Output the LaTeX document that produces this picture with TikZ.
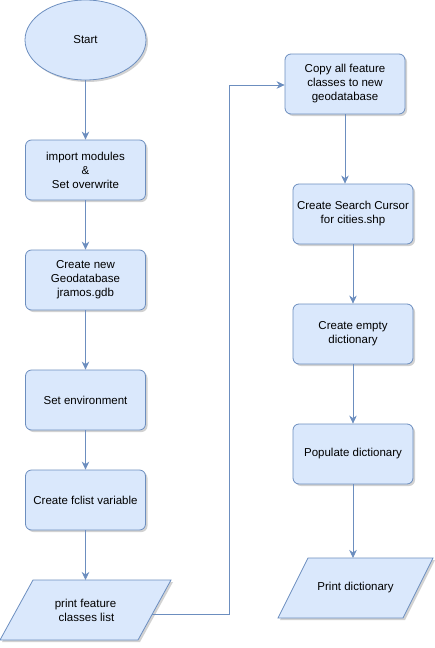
\documentclass[tikz,border=0pt]{standalone}
\usepackage{fontspec}
\setmainfont{Liberation Sans}
\usetikzlibrary{shapes.geometric,arrows.meta,shadows}
\definecolor{boxfill}{HTML}{DAE8FC}
\definecolor{boxline}{HTML}{6C8EBF}
\begin{document}
\begin{tikzpicture}[x=1pt,y=-1pt,
  shade/.style={drop shadow={shadow xshift=2pt,shadow yshift=-2pt,fill=black!35,opacity=0.5}},
  outline/.style={draw=boxline,fill=boxfill,line width=0.8pt,shade},
  txt/.style={align=center,font=\fontsize{11.5}{14}\selectfont,inner sep=1pt},
  base/.style={outline,txt},
  procbox/.style={base,rectangle,rounded corners=6pt,minimum width=120pt,minimum height=60pt},
  startnode/.style={base,ellipse,minimum width=121pt,minimum height=80pt},
  flow/.style={draw=boxline,line width=0.8pt,-{Stealth[length=8pt,width=7.5pt,inset=2.5pt]}}
]
\useasboundingbox (0,0) rectangle (435,648);
\node[startnode] (start) at (85.5,40) {Start};
\node[procbox] (imp) at (85.5,170) {import modules\\\&\\Set overwrite};
\node[procbox] (gdb) at (85.5,280) {Create new\\Geodatabase\\jramos.gdb};
\node[procbox] (env) at (85.5,400) {Set environment};
\node[procbox] (fcl) at (85.5,500) {Create fclist variable};
% parallelogram: print feature classes list
\draw[outline] (0,640) -- (33,580) -- (171,580) -- (138,640) -- cycle;
\node[txt] (pfc) at (85.5,610) {print feature\\\,classes list};
\coordinate (pfctop) at (85.5,580);
\coordinate (pfcexit) at (152.3,614);
\node[procbox] (copy) at (345,84) {Copy all feature\\classes to new\\geodatabase};
\node[procbox] (cur) at (353,214) {Create Search Cursor\\for cities.shp};
\node[procbox] (emp) at (353,334) {Create empty\\dictionary};
\node[procbox] (pop) at (353,454) {Populate dictionary};
% parallelogram: print dictionary
\draw[outline] (278,618) -- (308,558) -- (433,558) -- (403,618) -- cycle;
\node[txt] (pd) at (355.5,588) {Print dictionary};
\coordinate (pdtop) at (353,558);
\coordinate (turn1) at (229,614);
\coordinate (turn2) at (229,85);
\draw[flow] (start) -- (imp);
\draw[flow] (imp) -- (gdb);
\draw[flow] (gdb) -- (env);
\draw[flow] (env) -- (fcl);
\draw[flow] (fcl) -- (pfctop);
\draw[flow] (pfcexit) -- (turn1) -- (turn2) -- (copy.west |- turn2);
\draw[flow] (copy.south) -- (copy.south |- cur.north);
\draw[flow] (cur) -- (emp);
\draw[flow] (emp) -- (pop);
\draw[flow] (pop.south) -- (pdtop);
\end{tikzpicture}
\end{document}
